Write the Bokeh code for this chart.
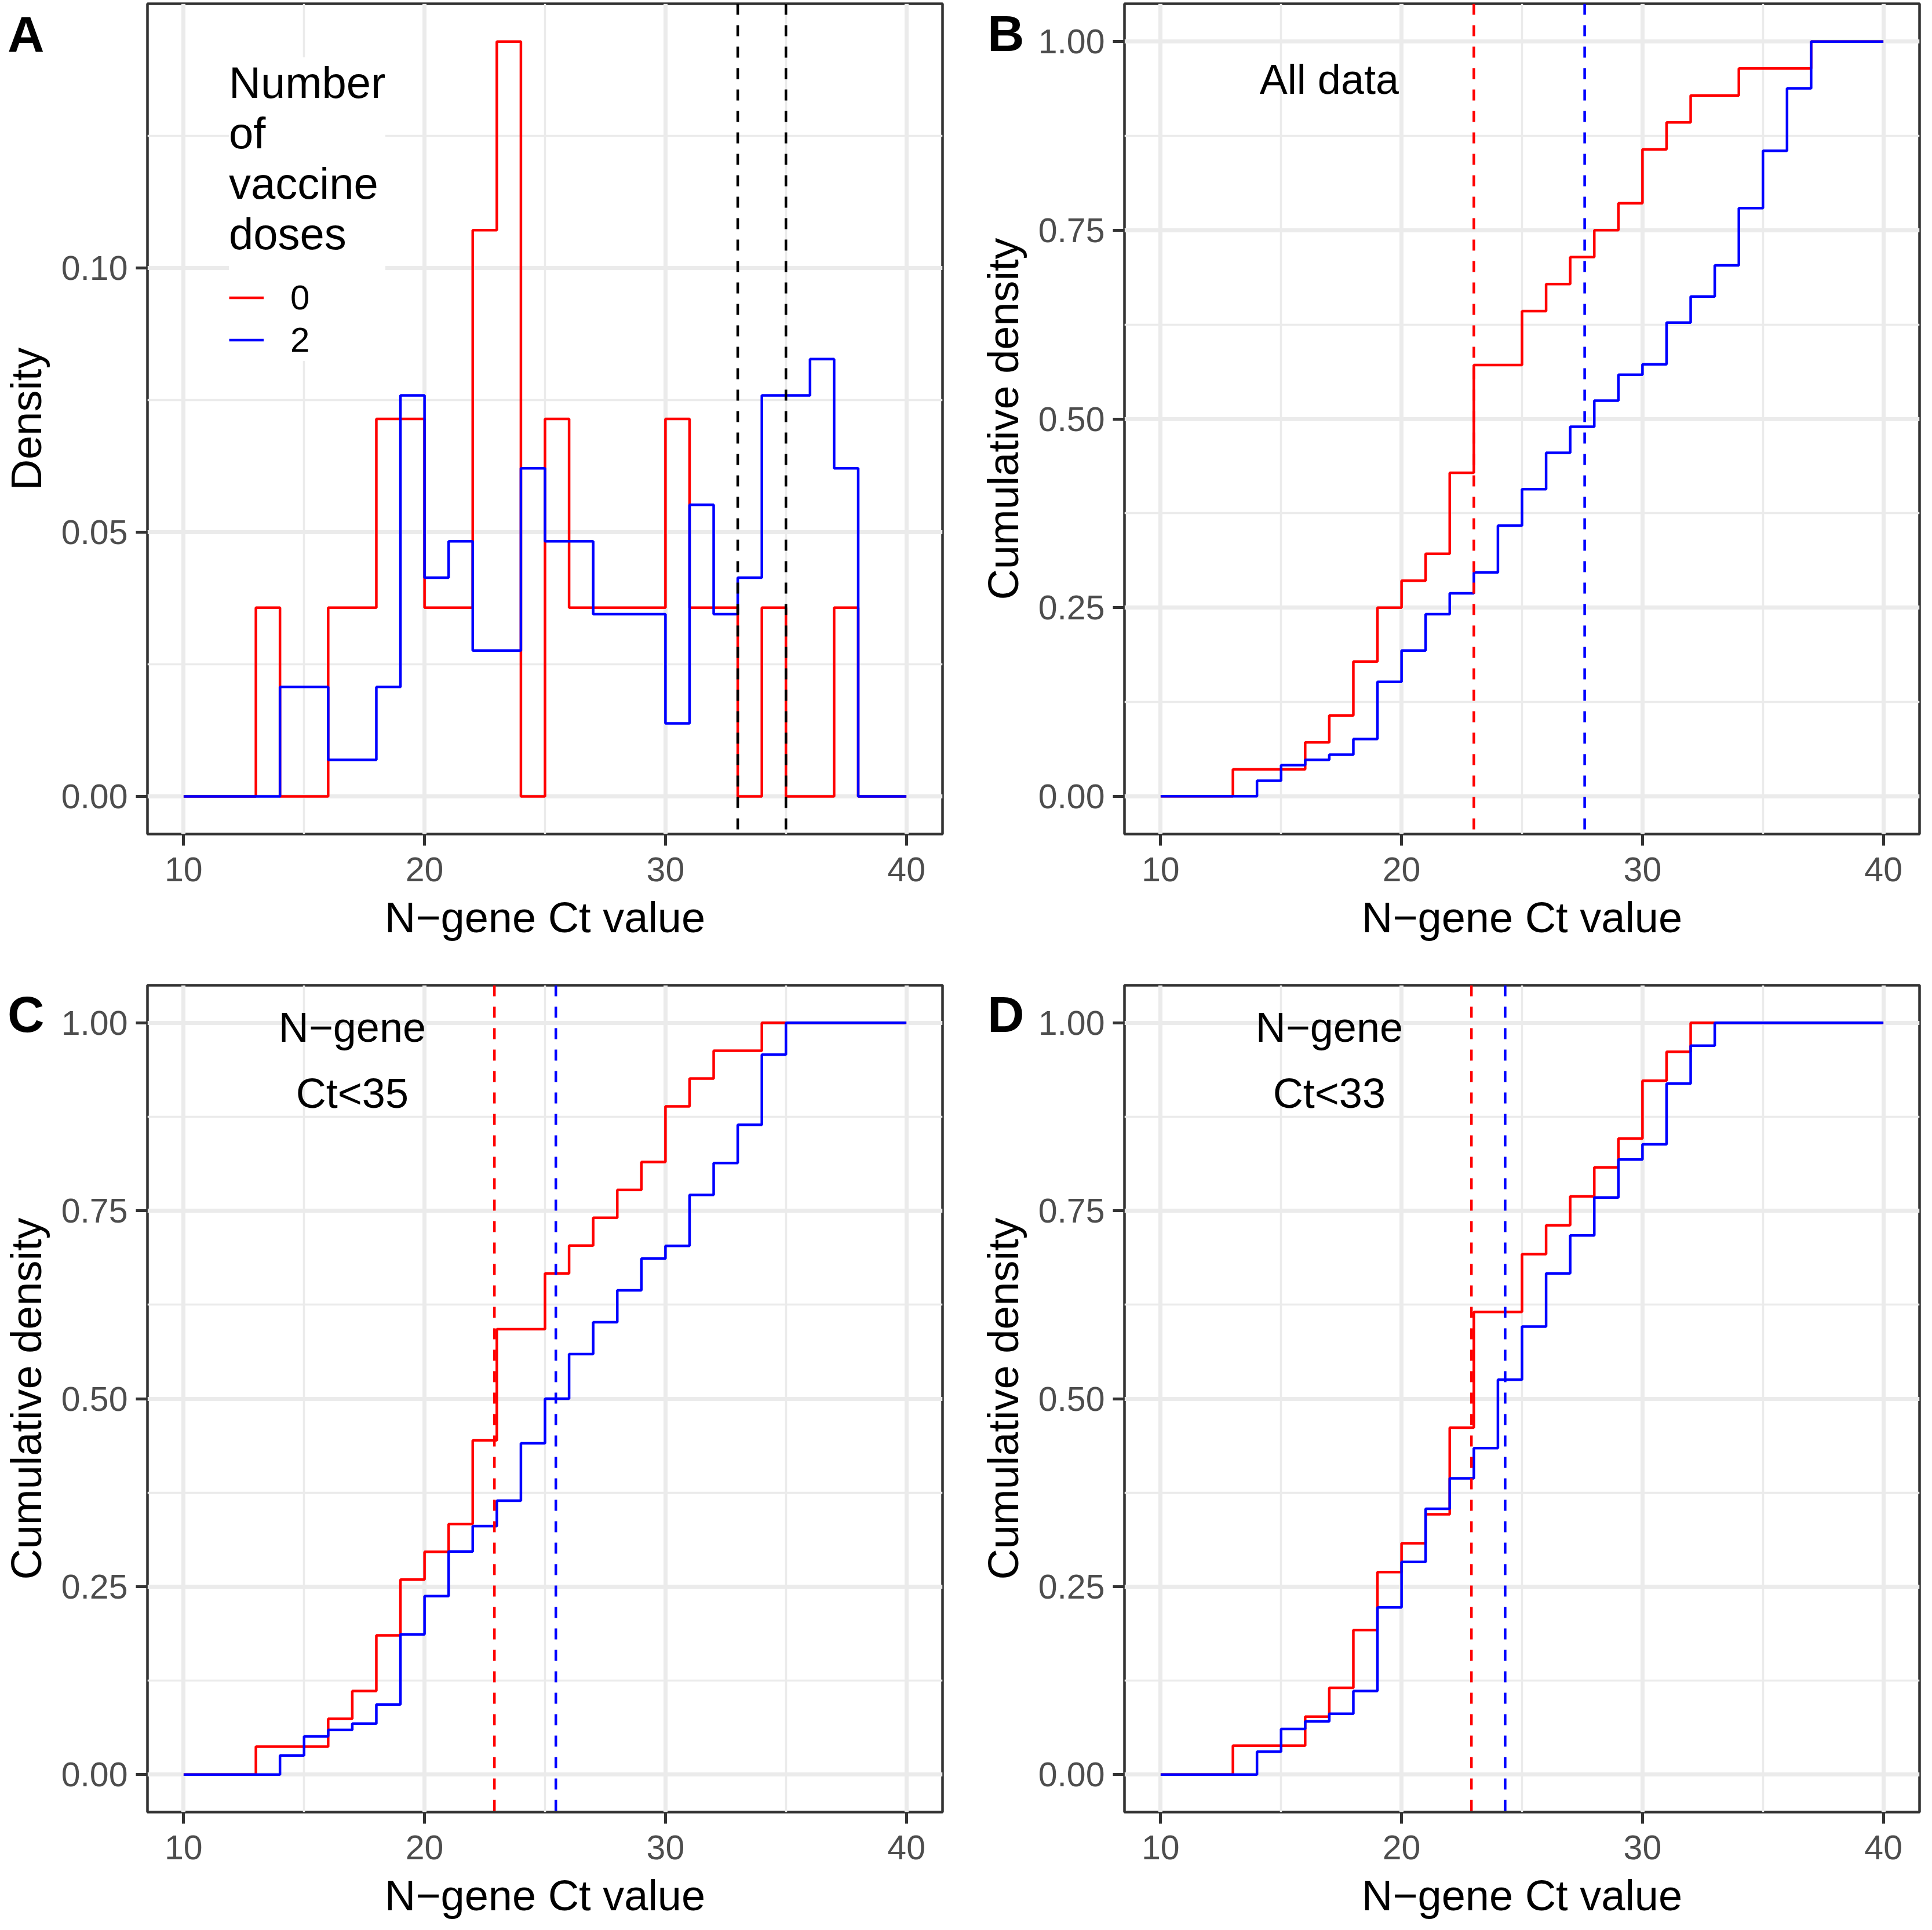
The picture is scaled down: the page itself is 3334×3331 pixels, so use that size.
import numpy as np
from bokeh.plotting import figure
from bokeh.layouts import gridplot
from bokeh.models import (Range1d, FixedTicker, NumeralTickFormatter, Span, LinearAxis,
                          CustomJSTickFormatter, Legend, LegendItem, ColumnDataSource)
from bokeh.core.properties import value
from bokeh.embed import file_html
from bokeh.resources import INLINE

# ---------------- data ----------------
# integer Ct positions (bin left edges / ECDF step positions)
ct = list(range(10, 41))

# Panel A: histogram counts per 1-unit bin [10,11) ... [39,40)
hist_red_counts = [0, 0, 0, 1, 0, 0, 1, 1, 2, 2, 1, 1, 3, 4, 0, 2, 1, 1, 1, 1, 2, 1, 1, 0, 1, 0, 0, 1, 0, 0]
hist_blue_counts = [0, 0, 0, 0, 3, 3, 1, 1, 3, 11, 6, 7, 4, 4, 9, 7, 7, 5, 5, 5, 2, 8, 5, 6, 11, 11, 12, 9, 0, 0]
cutoffs = [33, 35]

# ECDF increments at Ct = 10..40 for each panel
ecdf_red_all = [0, 0, 0, 1, 0, 0, 1, 1, 2, 2, 1, 1, 3, 4, 0, 2, 1, 1, 1, 1, 2, 1, 1, 0, 1, 0, 0, 1, 0, 0, 0]
ecdf_blue_all = [0, 0, 0, 0, 3, 3, 1, 1, 3, 11, 6, 7, 4, 4, 9, 7, 7, 5, 5, 5, 2, 8, 5, 6, 11, 11, 12, 9, 0, 0, 0]
ecdf_red_35 = [0, 0, 0, 1, 0, 0, 1, 1, 2, 2, 1, 1, 3, 4, 0, 2, 1, 1, 1, 1, 2, 1, 1, 0, 1, 0, 0, 0, 0, 0, 0]
ecdf_blue_35 = [0, 0, 0, 0, 3, 3, 1, 1, 3, 11, 6, 7, 4, 4, 9, 7, 7, 5, 5, 5, 2, 8, 5, 6, 11, 5, 0, 0, 0, 0, 0]
ecdf_red_33 = [0, 0, 0, 1, 0, 0, 1, 1, 2, 2, 1, 1, 3, 4, 0, 2, 1, 1, 1, 1, 2, 1, 1, 0, 0, 0, 0, 0, 0, 0, 0]
ecdf_blue_33 = [0, 0, 0, 0, 3, 3, 1, 1, 3, 11, 6, 7, 4, 4, 9, 7, 7, 5, 5, 5, 2, 8, 5, 3, 0, 0, 0, 0, 0, 0, 0]

median_red = [23.0, 22.9, 22.9]
median_blue = [27.6, 25.45, 24.3]
panel_texts = ["All data", "N\u2212gene\nCt<35", "N\u2212gene\nCt<33"]
tags = ["A", "B", "C", "D"]

RED = "#FF0000"
BLUE = "#0000FF"
FONT = "Liberation Sans"
TAGFONT = "Liberation Sans"


def style(p, yticks, yminor):
    p.outline_line_color = "#333333"
    p.outline_line_width = 4.5
    p.background_fill_color = "white"
    p.border_fill_color = "white"
    p.xaxis.ticker = FixedTicker(ticks=[10, 20, 30, 40], minor_ticks=[15, 25, 35])
    p.yaxis.ticker = FixedTicker(ticks=yticks, minor_ticks=yminor)
    p.yaxis.formatter = NumeralTickFormatter(format="0.00")
    for ax in (p.xaxis[0], p.yaxis[0]):
        ax.axis_line_color = None
        ax.major_tick_line_color = "#333333"
        ax.major_tick_line_width = 5
        ax.major_tick_out = 20
        ax.major_tick_in = 0
        ax.minor_tick_line_color = None
        ax.major_label_text_font = FONT
        ax.major_label_text_font_size = "59px"
        ax.major_label_text_color = "#4D4D4D"
        ax.axis_label_text_font = FONT
        ax.axis_label_text_font_size = "74px"
        ax.axis_label_text_font_style = "normal"
        ax.axis_label_text_color = "black"
    p.xaxis.major_label_standoff = 20
    p.yaxis.major_label_standoff = 14
    p.xaxis.axis_label_standoff = 18
    p.yaxis.axis_label_standoff = 16
    for g in (p.xgrid[0], p.ygrid[0]):
        g.grid_line_color = "#EBEBEB"
        g.grid_line_width = 7
        g.minor_grid_line_color = "#EBEBEB"
        g.minor_grid_line_width = 3.5


def make_fig(w, h, left, right, top, bottom, ylab):
    p = figure(width=w, height=h, output_backend="svg", toolbar_location=None,
               min_border_left=left, min_border_right=right,
               min_border_top=top, min_border_bottom=bottom,
               x_range=Range1d(8.5, 41.5))
    p.xaxis.axis_label = "N\u2212gene Ct value"
    p.yaxis.axis_label = ylab
    return p


def add_tag(p, t, at_y, standoff):
    # panel tag drawn as the single label of an extra, line-less outer left axis
    ax = LinearAxis(ticker=FixedTicker(ticks=[at_y], minor_ticks=[]),
                    formatter=CustomJSTickFormatter(code="return '%s'" % t))
    ax.axis_line_color = None
    ax.major_tick_line_color = None
    ax.minor_tick_line_color = None
    ax.major_tick_out = 0
    ax.major_tick_in = 0
    ax.major_label_standoff = standoff
    ax.major_label_text_font = TAGFONT
    ax.major_label_text_font_style = "bold"
    ax.major_label_text_font_size = "88px"
    ax.major_label_text_color = "black"
    p.add_layout(ax, "left")


# ---------------- Panel A ----------------
W = 1659
pA = make_fig(W, 1657, 247, 33, 6, 218, "Density")
pA.y_range = Range1d(-0.00714, 0.15)
style(pA, [0, 0.05, 0.10], [0.025, 0.075, 0.125])

nr = sum(hist_red_counts)
nb = sum(hist_blue_counts)
dens_red = [c / nr for c in hist_red_counts] + [hist_red_counts[-1] / nr]
dens_blue = [c / nb for c in hist_blue_counts] + [hist_blue_counts[-1] / nb]
rA_red = pA.step(x=ct, y=dens_red, mode="after", line_color=RED, line_width=4.5)
rA_blue = pA.step(x=ct, y=dens_blue, mode="after", line_color=BLUE, line_width=4.5)
for c in cutoffs:
    pA.add_layout(Span(location=c, dimension="height", line_color="black",
                       line_width=4.5, line_dash="19 18"))

legend = Legend(items=[LegendItem(label="0", renderers=[rA_red]),
                       LegendItem(label="2", renderers=[rA_blue])],
                title="Number\nof\nvaccine\ndoses",
                location=(141, 816))
legend.title_text_font = FONT
legend.title_text_font_size = "76px"
legend.title_text_font_style = "normal"
legend.title_text_color = "black"
legend.title_standoff = 30
legend.label_text_font = FONT
legend.label_text_font_size = "60px"
legend.label_text_color = "black"
legend.label_standoff = 46
legend.label_height = 73
legend.glyph_height = 73
legend.glyph_width = 60
legend.spacing = 0
legend.padding = 39
legend.margin = 0
legend.border_line_color = None
legend.background_fill_color = "white"
legend.background_fill_alpha = 1.0
pA.add_layout(legend)
add_tag(pA, tags[0], 0.1443, -76)


# ---------------- ECDF panels ----------------
def ecdf_panel(h, left, right, top, bottom, inc_red, inc_blue, med_r, med_b, txt, tag, tag_y, tag_so):
    p = make_fig(W, h, left, right, top, bottom, "Cumulative density")
    p.y_range = Range1d(-0.05, 1.05)
    style(p, [0, 0.25, 0.5, 0.75, 1.0], [0.125, 0.375, 0.625, 0.875])
    cr = np.cumsum(inc_red) / sum(inc_red)
    cb = np.cumsum(inc_blue) / sum(inc_blue)
    p.step(x=ct, y=cr, mode="after", line_color=RED, line_width=4.5)
    p.step(x=ct, y=cb, mode="after", line_color=BLUE, line_width=4.5)
    p.add_layout(Span(location=med_r, dimension="height", line_color=RED,
                      line_width=4.5, line_dash="19 18"))
    p.add_layout(Span(location=med_b, dimension="height", line_color=BLUE,
                      line_width=4.5, line_dash="19 18"))
    src = ColumnDataSource(dict(x=[17], y=[0.95], t=[txt]))
    p.text(x="x", y="y", text="t", source=src, text_font=value(FONT),
           text_font_size="72px", text_color="black", text_align="center",
           text_baseline="middle", text_line_height=1.43)
    add_tag(p, tag, tag_y, tag_so)
    return p


pB = ecdf_panel(1657, 281, 6, 6, 218, ecdf_red_all, ecdf_blue_all,
                median_red[0], median_blue[0], panel_texts[0], tags[1], 1.0107, -81)
pC = ecdf_panel(1658, 247, 33, 43, 183, ecdf_red_35, ecdf_blue_35,
                median_red[1], median_blue[1], panel_texts[1], tags[2], 1.0115, -76)
pD = ecdf_panel(1658, 281, 6, 43, 183, ecdf_red_33, ecdf_blue_33,
                median_red[2], median_blue[2], panel_texts[2], tags[3], 1.0115, -81)

grid = gridplot([[pA, pB], [pC, pD]], toolbar_location=None)

open("out.html", "w").write(file_html(grid, INLINE))
